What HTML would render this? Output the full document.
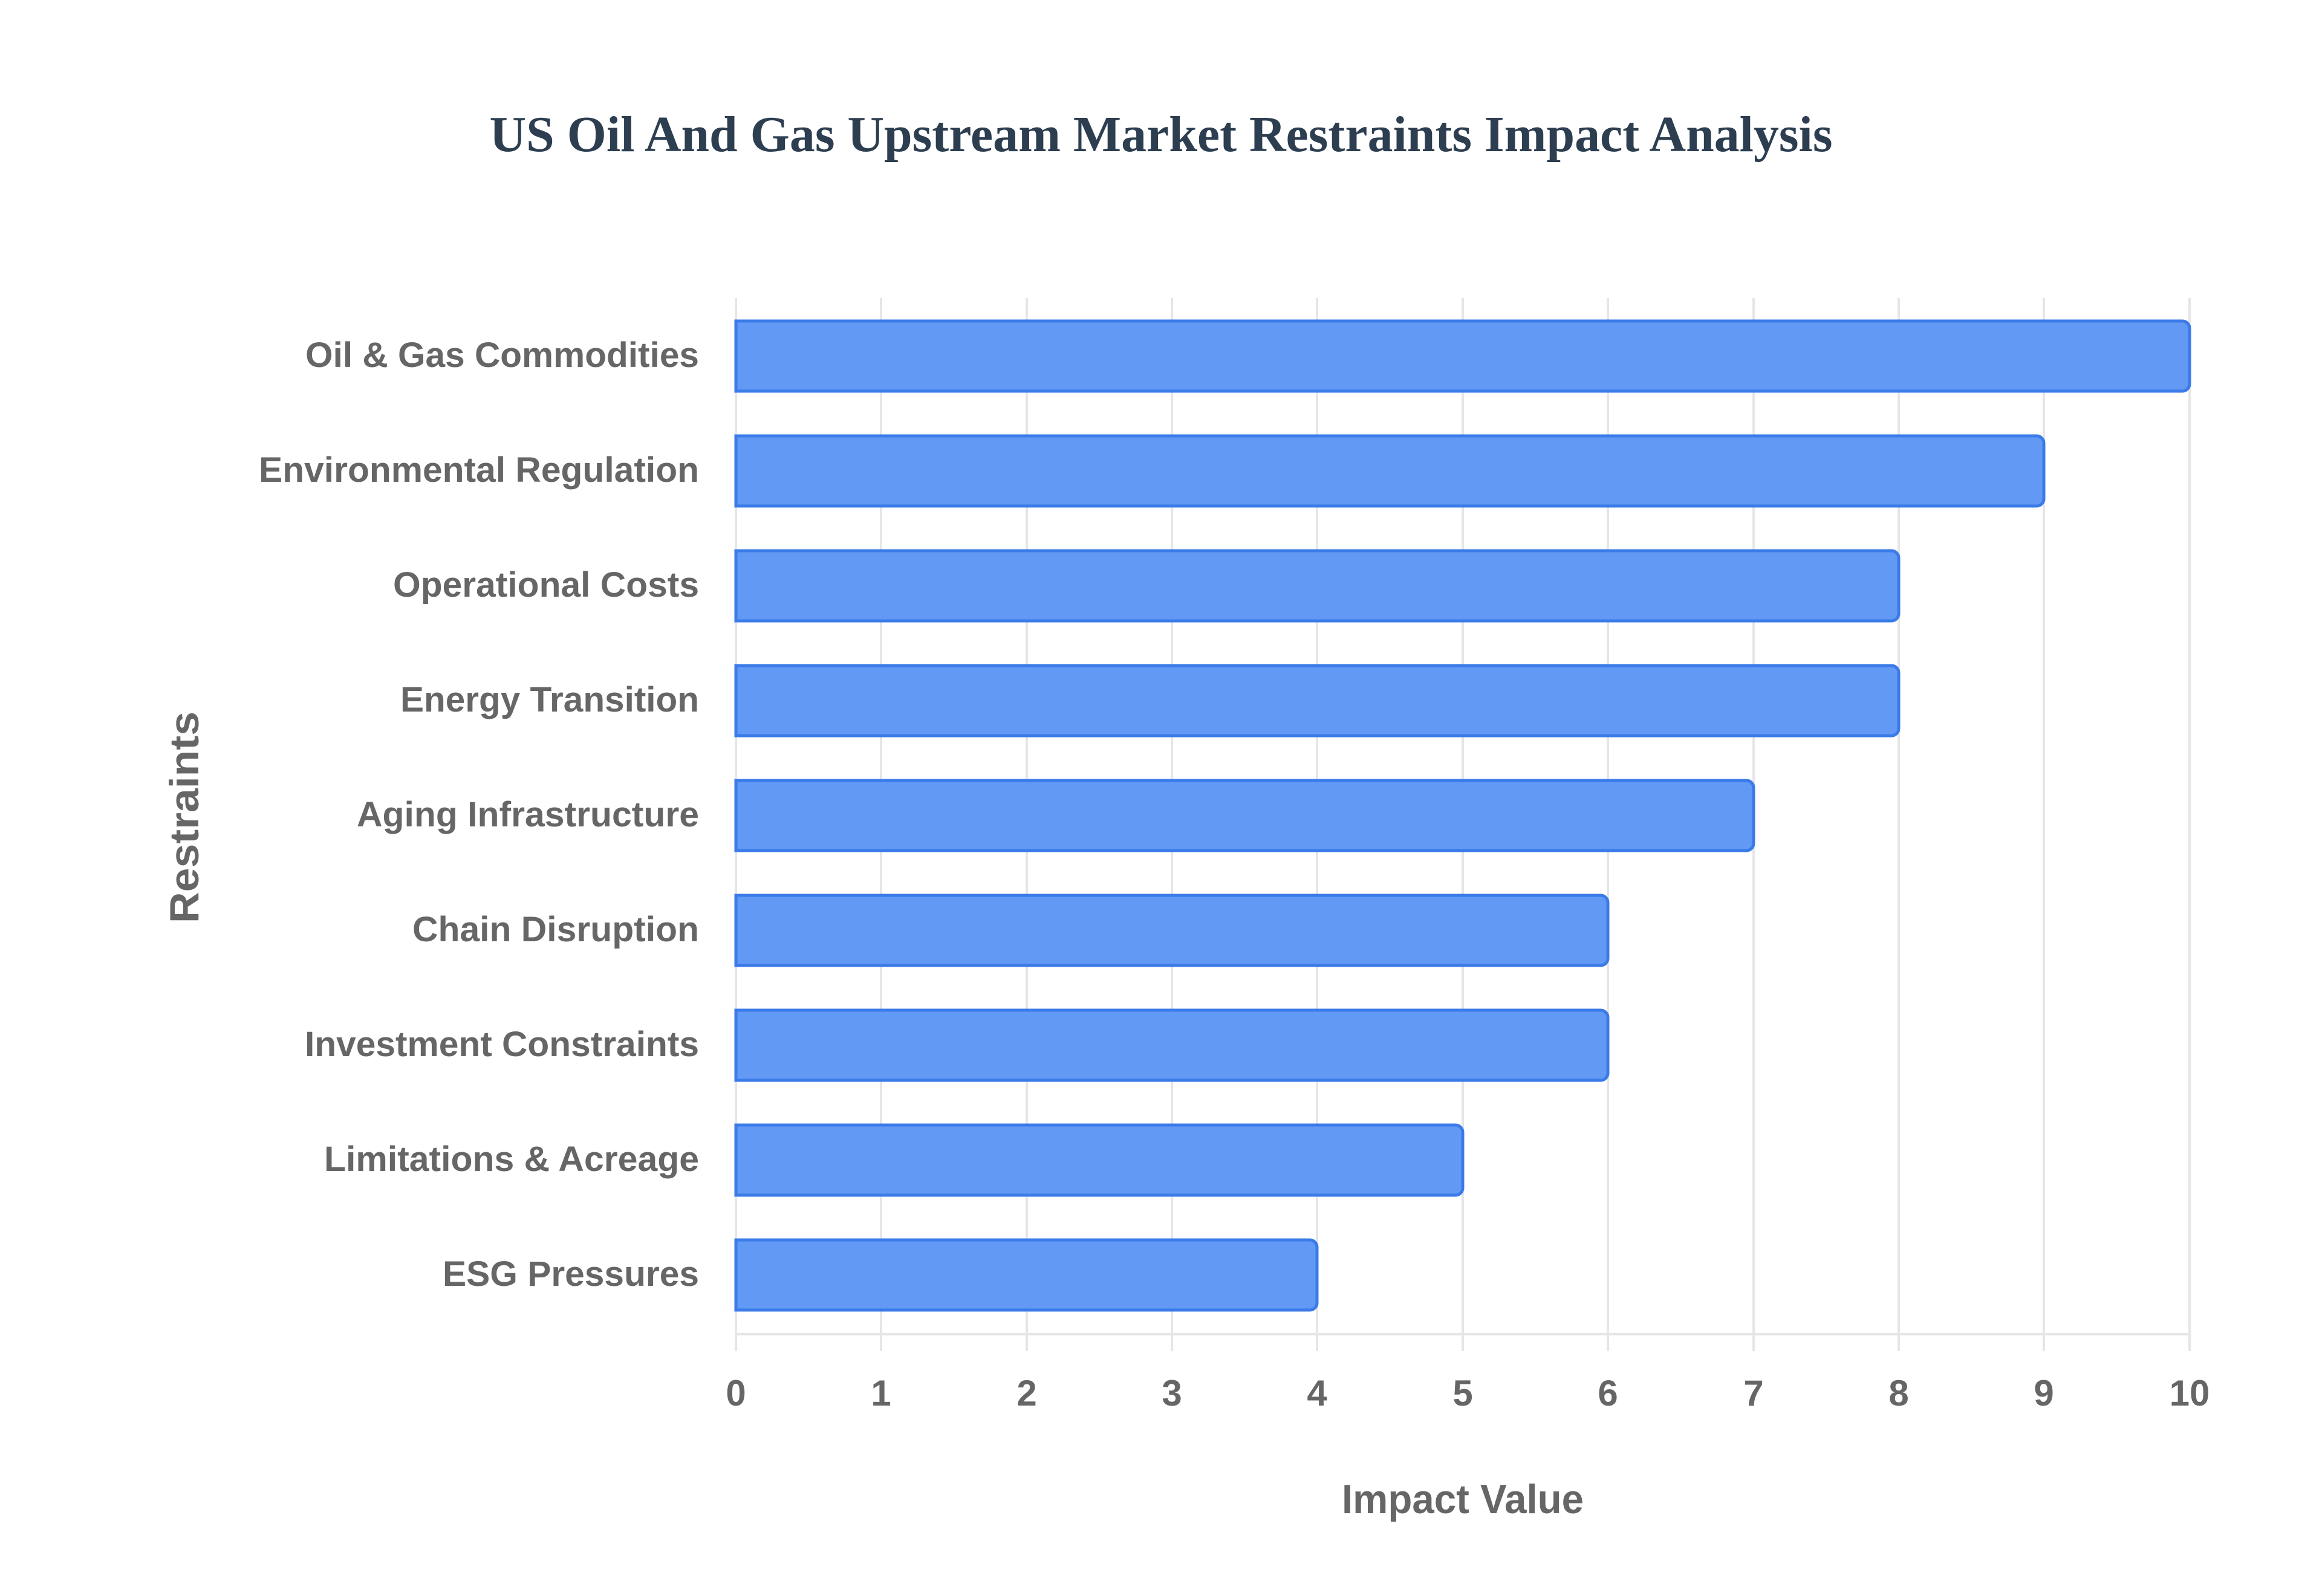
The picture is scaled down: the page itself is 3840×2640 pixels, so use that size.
<!DOCTYPE html>
<html><head><meta charset="utf-8"><style>
html,body{margin:0;padding:0;background:#fff;}
svg{display:block;}
</style></head><body>
<svg width="3840" height="2640" viewBox="0 0 3840 2640" xmlns="http://www.w3.org/2000/svg">
<rect width="3840" height="2640" fill="#fff"/>
<text x="1920" y="250" text-anchor="middle" font-family="Liberation Serif, serif" font-weight="bold" font-size="84" fill="#2c3e50" textLength="2221" lengthAdjust="spacingAndGlyphs">US Oil And Gas Upstream Market Restraints Impact Analysis</text>
<g stroke="#e6e6e6" stroke-width="4">
<line x1="1217" y1="493" x2="1217" y2="2235"/>
<line x1="1457" y1="493" x2="1457" y2="2235"/>
<line x1="1698" y1="493" x2="1698" y2="2235"/>
<line x1="1938" y1="493" x2="1938" y2="2235"/>
<line x1="2178" y1="493" x2="2178" y2="2235"/>
<line x1="2419" y1="493" x2="2419" y2="2235"/>
<line x1="2659" y1="493" x2="2659" y2="2235"/>
<line x1="2900" y1="493" x2="2900" y2="2235"/>
<line x1="3140" y1="493" x2="3140" y2="2235"/>
<line x1="3380" y1="493" x2="3380" y2="2235"/>
<line x1="3621" y1="493" x2="3621" y2="2235"/>
<line x1="1217" y1="2207" x2="3621" y2="2207"/>
</g>
<g fill="#6199f4" stroke="#3b7be9" stroke-width="5">
<path d="M1217 531 H3609 a12 12 0 0 1 12 12 V635 a12 12 0 0 1 -12 12 H1217 Z"/>
<path d="M1217 721 H3368 a12 12 0 0 1 12 12 V825 a12 12 0 0 1 -12 12 H1217 Z"/>
<path d="M1217 911 H3128 a12 12 0 0 1 12 12 V1015 a12 12 0 0 1 -12 12 H1217 Z"/>
<path d="M1217 1101 H3128 a12 12 0 0 1 12 12 V1205 a12 12 0 0 1 -12 12 H1217 Z"/>
<path d="M1217 1291 H2888 a12 12 0 0 1 12 12 V1395 a12 12 0 0 1 -12 12 H1217 Z"/>
<path d="M1217 1481 H2647 a12 12 0 0 1 12 12 V1585 a12 12 0 0 1 -12 12 H1217 Z"/>
<path d="M1217 1671 H2647 a12 12 0 0 1 12 12 V1775 a12 12 0 0 1 -12 12 H1217 Z"/>
<path d="M1217 1861 H2407 a12 12 0 0 1 12 12 V1965 a12 12 0 0 1 -12 12 H1217 Z"/>
<path d="M1217 2051 H2166 a12 12 0 0 1 12 12 V2155 a12 12 0 0 1 -12 12 H1217 Z"/>
</g>
<g font-family="Liberation Sans, sans-serif" font-weight="bold" font-size="58" fill="#666" text-anchor="end">
<text x="1156" y="607" textLength="651" lengthAdjust="spacingAndGlyphs">Oil &amp; Gas Commodities</text>
<text x="1156" y="797" textLength="728" lengthAdjust="spacingAndGlyphs">Environmental Regulation</text>
<text x="1156" y="987" textLength="506" lengthAdjust="spacingAndGlyphs">Operational Costs</text>
<text x="1156" y="1177" textLength="494" lengthAdjust="spacingAndGlyphs">Energy Transition</text>
<text x="1156" y="1367" textLength="566" lengthAdjust="spacingAndGlyphs">Aging Infrastructure</text>
<text x="1156" y="1557" textLength="474" lengthAdjust="spacingAndGlyphs">Chain Disruption</text>
<text x="1156" y="1747" textLength="652" lengthAdjust="spacingAndGlyphs">Investment Constraints</text>
<text x="1156" y="1937" textLength="620" lengthAdjust="spacingAndGlyphs">Limitations &amp; Acreage</text>
<text x="1156" y="2127" textLength="424" lengthAdjust="spacingAndGlyphs">ESG Pressures</text>
</g>
<g font-family="Liberation Sans, sans-serif" font-weight="bold" font-size="60" fill="#666" text-anchor="middle">
<text x="1217" y="2325">0</text>
<text x="1457" y="2325">1</text>
<text x="1698" y="2325">2</text>
<text x="1938" y="2325">3</text>
<text x="2178" y="2325">4</text>
<text x="2419" y="2325">5</text>
<text x="2659" y="2325">6</text>
<text x="2900" y="2325">7</text>
<text x="3140" y="2325">8</text>
<text x="3380" y="2325">9</text>
<text x="3621" y="2325">10</text>
</g>
<text x="2419" y="2503" text-anchor="middle" font-family="Liberation Sans, sans-serif" font-weight="bold" font-size="68" fill="#666" textLength="400" lengthAdjust="spacingAndGlyphs">Impact Value</text>
<text transform="translate(328,1352) rotate(-90)" text-anchor="middle" font-family="Liberation Sans, sans-serif" font-weight="bold" font-size="68" fill="#666" textLength="350" lengthAdjust="spacingAndGlyphs">Restraints</text>
</svg>
</body></html>
